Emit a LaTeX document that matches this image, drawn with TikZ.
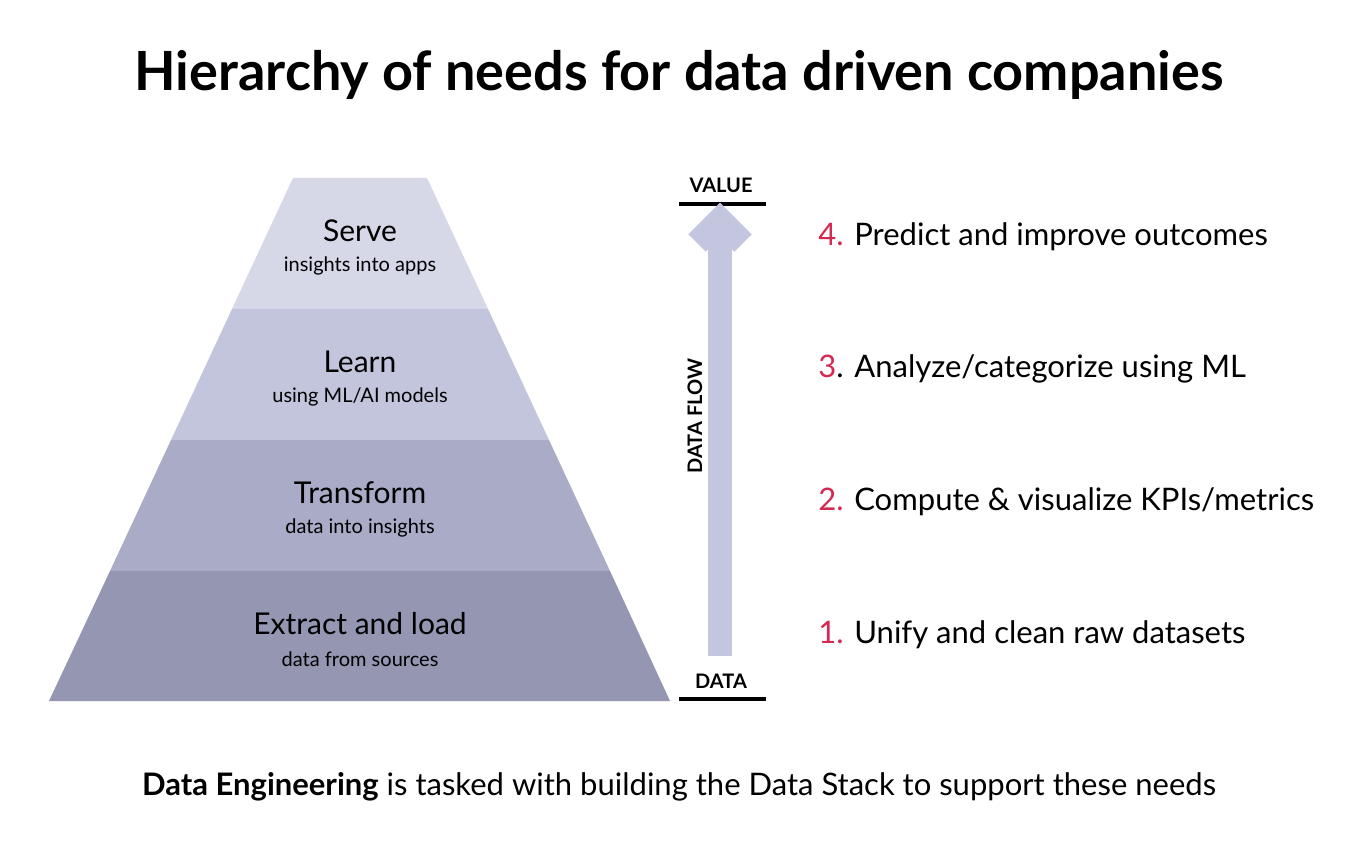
\documentclass[tikz,border=0pt]{standalone}
\usepackage{fontspec}
\setmainfont{Lato}
\definecolor{l1}{HTML}{D6D7E7}
\definecolor{l2}{HTML}{C3C5DC}
\definecolor{l3}{HTML}{A9ABC7}
\definecolor{l4}{HTML}{9496B2}
\definecolor{arr}{HTML}{C4C6DF}
\definecolor{num}{HTML}{D42A52}
\newcommand{\px}[1]{\fontsize{\dimexpr #1pt*2845/10000\relax}{\dimexpr #1pt*34/100\relax}\selectfont}
\tikzset{
 main/.style={font=\px{30}},
 sub/.style={font=\px{20}},
 item/.style={font=\px{31}, anchor=west},
 tag/.style={font=\bfseries\px{20}},
 rule/.style={line width=1pt, black}
}
\begin{document}
\begin{tikzpicture}[x=0.01cm,y=-0.01cm]
\useasboundingbox (0,0) rectangle (1358,849);
\fill[white] (0,0) rectangle (1358,849);
\node[font=\bfseries\px{54}] (title) at (679,75) {Hierarchy of needs for data driven companies};
\fill[l1] (293,178) -- (427,178) -- (488,309) -- (232,309) -- cycle;
\fill[l2] (232,309) -- (488,309) -- (549,440) -- (171,440) -- cycle;
\fill[l3] (171,440) -- (549,440) -- (610,571) -- (110,571) -- cycle;
\fill[l4] (110,571) -- (610,571) -- (670,701) -- (49,701) -- cycle;
\node[main] (s1) at (360,231) {Serve};
\node[sub] (s2) at (360,266) {insights into apps};
\node[main] (l1n) at (360,362) {Learn};
\node[sub] (l2n) at (360,397) {using ML/AI models};
\node[main] (t1) at (360,493) {Transform};
\node[sub] (t2) at (360,528) {data into insights};
\node[main] (e1) at (360,624) {Extract and load};
\node[sub] (e2) at (360,659) {data from sources};
\node[tag] (value) at (721,185) {VALUE};
\node[tag] (data) at (721,681) {DATA};
\draw[rule] (679,204) -- (766,204);
\draw[rule] (679,699) -- (766,699);
\coordinate (a0) at (720,656);
\coordinate (a1) at (720,222);
\draw[arr, line width=7pt] (a0) -- (a1);
\draw[arr, line width=7pt, line join=miter] (697,243) -- (720,220) -- (743,243);
\node[tag, rotate=90] (flow) at (695,416) {DATA FLOW};
\node[item] (i4) at (806,237) {\textcolor{num}{4.} Predict and improve outcomes};
\node[item] (i3) at (806,369) {\textcolor{num}{3}. Analyze/categorize using ML};
\node[item] (i2) at (806,502) {\textcolor{num}{2.} Compute \& visualize KPIs/metrics};
\node[item] (i1) at (806,635) {\textcolor{num}{1.} Unify and clean raw datasets};
\node[font=\px{31}] (foot) at (679,787) {\textbf{Data Engineering} is tasked with building the Data Stack to support these needs};
\end{tikzpicture}
\end{document}
